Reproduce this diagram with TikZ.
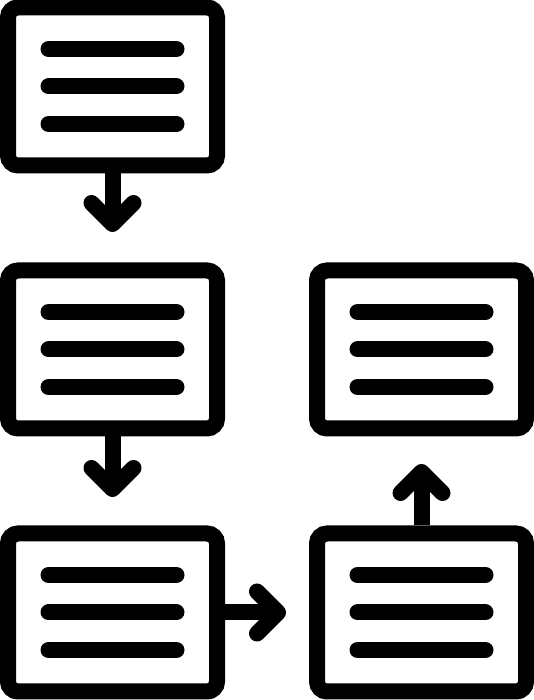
\documentclass[tikz,border=0pt]{standalone}
\usepackage{tikz}
\tikzset{
    list-box/.style = {draw=black, fill=white, line width=16pt, rectangle, rounded corners=10pt, minimum width=209pt, minimum height=158pt, inner sep=0pt},
    text-line/.style = {line width=16pt, line cap=round},
    flow-line/.style = {line width=16pt},
    arrow-head/.style = {line width=16pt, line cap=round, line join=round},
}

\begin{document}
\begin{tikzpicture}[x=1pt, y=1pt]
\useasboundingbox (0,0) rectangle (534,700);
\node [list-box] (box1) at (112.5,613.5) {};
\node [list-box] (box2) at (112.5,350.5) {};
\node [list-box] (box3) at (112.5,87.5) {};
\node [list-box] (box4) at (421.5,350.5) {};
\node [list-box] (box5) at (421.5,87.5) {};
% the three text lines of each box
\foreach \b in {box1,box2,box3,box4,box5}
    \foreach \dy in {-37.5,0,37.5}
        \draw [text-line] ([xshift=-64pt,yshift=\dy pt]\b.center) -- ([xshift=64pt,yshift=\dy pt]\b.center);
% arrow tips
\coordinate (tip1) at (112.5,476);
\coordinate (tip2) at (112.5,211);
\coordinate (tip3) at (278,87.5);
\coordinate (tip4) at (421.5,228);
\draw [flow-line] (box1.south) -- (tip1);
\draw [arrow-head] ([shift={(-21pt,21pt)}]tip1) -- (tip1) -- ([shift={(21pt,21pt)}]tip1);
\draw [flow-line] (box2.south) -- (tip2);
\draw [arrow-head] ([shift={(-21pt,21pt)}]tip2) -- (tip2) -- ([shift={(21pt,21pt)}]tip2);
\draw [flow-line] (box3.east) -- (tip3);
\draw [arrow-head] ([shift={(-21pt,21pt)}]tip3) -- (tip3) -- ([shift={(-21pt,-21pt)}]tip3);
\draw [flow-line] (box5.north) -- (tip4);
\draw [arrow-head] ([shift={(-21pt,-21pt)}]tip4) -- (tip4) -- ([shift={(21pt,-21pt)}]tip4);
\end{tikzpicture}
\end{document}
